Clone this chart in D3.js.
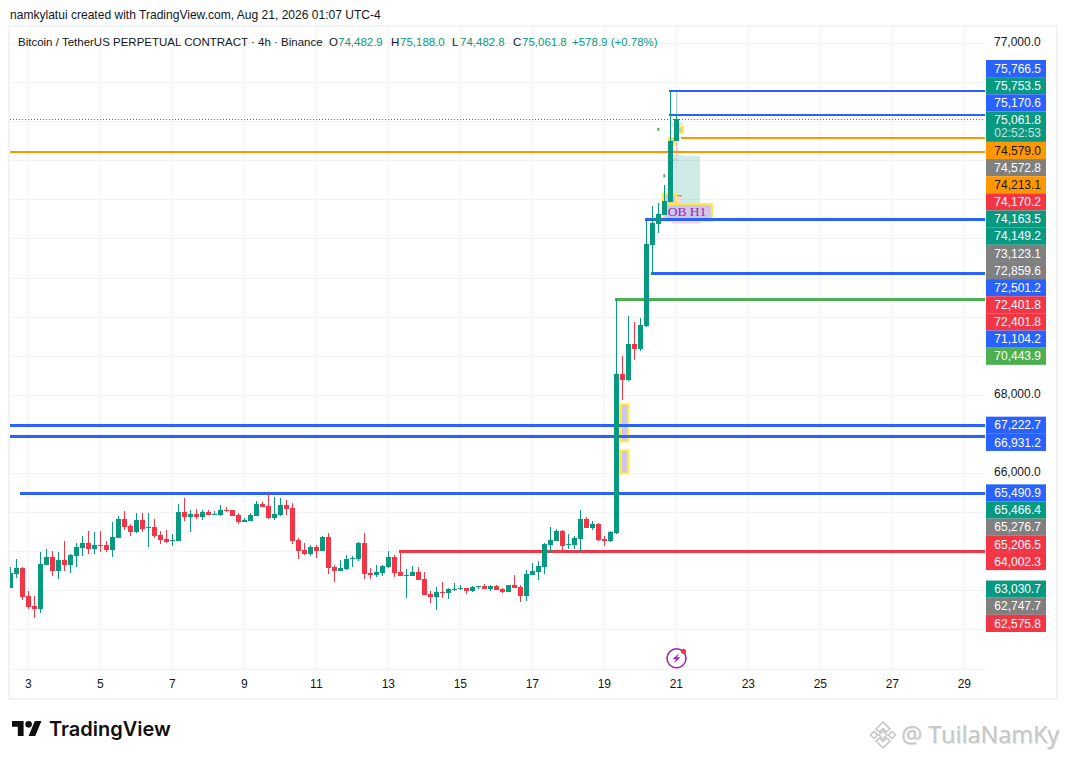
<!DOCTYPE html>
<html>
<head>
<meta charset="utf-8">
<script src="https://cdn.jsdelivr.net/npm/d3@7"></script>
<style>
  html, body { margin: 0; padding: 0; background: #fff; }
  svg { display: block; }
  text { font-family: "Liberation Sans", sans-serif; fill: #131722; }
  .axis path, .axis line { stroke: none; }
  .grid line { stroke: #f3f3f4; shape-rendering: crispEdges; }
  .grid path { stroke: none; }
</style>
</head>
<body>
<svg id="chart" width="1067" height="759"></svg>
<script>
// 4h candles, first one opens Aug 2 12:00
const opens = [63057,63414,63568,62853,62597,62521,63644,63849,63491,63772,63644,63874,64078,64206,64053,64155,64155,64027,64334,64819,64640,64487,64793,64589,64615,64410,64308,64257,64257,64998,64870,64947,64870,64998,64921,64921,65049,65049,64921,64742,64768,64896,65202,65151,64845,64921,65177,65100,64283,64027,63925,64104,64002,64359,63593,63491,63542,63797,63797,64206,63440,63389,63440,63593,63849,63465,63363,63363,63465,63287,62904,62827,62955,62929,63006,63031,63057,62980,63082,63108,63031,63108,63031,62955,63133,63082,62853,63389,63465,63593,64155,64257,64513,64155,64155,64308,64819,64589,64691,64308,64257,64461,68522,68368,69288,69160,69773,71841,72378,72608,72940,74482.9];
const highs = [63593,63797,63593,62980,62853,63976,64053,64002,63976,64257,63925,64206,64385,64513,64487,64513,64257,64742,64896,65023,64691,64972,64972,64972,64819,64513,64538,64436,65202,65355,65049,65074,65049,65049,65023,65177,65125,65049,64972,64845,64972,65279,65253,65483,65381,65355,65304,65228,64334,64206,64155,64155,64385,64461,63644,63772,63900,63874,64232,64461,63568,63644,63644,64002,63900,64002,63542,63619,63593,63465,62980,63082,63210,63057,63185,63133,63057,63108,63108,63159,63133,63133,63057,63133,63389,63133,63517,63695,63746,64206,64615,64564,64538,64436,64385,65049,64870,64768,64717,64385,64513,70443.9,68981,70029,69853,69977,72455,72838,72915,73374,75766.5,75188];
const lows = [63057,63312,62750,62521,62291,62418,63644,63363,63287,63491,63440,63593,63874,63925,63925,63976,63976,63849,64334,64538,64385,64461,64487,64104,64334,64181,64206,64129,64257,64768,64487,64819,64793,64921,64921,64896,64998,64896,64691,64742,64768,64896,65125,64819,64793,64896,64921,64181,63797,63900,63874,63823,64002,63414,63210,63491,63517,63593,63746,63287,63287,63338,63363,63568,63338,63363,62801,63363,63261,62878,62674,62495,62801,62776,62980,63006,62904,62955,63031,63031,62980,63006,62929,62955,63057,62699,62725,63389,63261,63414,63951,64257,64027,64053,64053,63976,64589,64538,64257,64129,64232,64435,67857,68343,68879,69134,69747,71078,72148,72608,72940,74482.8];
const closes = [63440,63568,62827,62572,62521,63670,63849,63491,63772,63644,63900,64104,64206,64053,64155,64129,64027,64359,64819,64615,64487,64793,64564,64615,64385,64283,64232,64283,64998,64870,64947,64870,64998,64921,64947,65049,65023,64896,64742,64793,64921,65202,65125,64845,64947,65177,65074,64257,64002,63925,64104,64002,64359,63568,63491,63568,63797,63823,64206,63414,63389,63465,63619,63849,63440,63363,63389,63465,63261,62878,62827,62955,62929,63031,63031,63057,62980,63082,63108,63031,63108,63006,62955,63133,63057,62853,63414,63491,63619,64181,64283,64513,64129,64181,64334,64819,64589,64691,64283,64257,64487,68522,68368,69288,69160,69798,71867,72403,72633,72966,74482.9,75061.8];

const dayTicks = [3,5,7,9,11,13,15,17,19,21,23,25,27,29];
const priceGrid = d3.range(61000, 78000, 1000);
const priceTicks = [77000, 68000, 66000];

// horizontal levels drawn from a candle to the right edge, -3 = runs from the left
const levelValues = [75766.5, 75170.6, 74579.0, 74213.1, 72501.2, 71104.2, 70443.9, 67222.7, 66931.2, 65490.9, 64002.3];
const levelStarts = [110, 110, 112, -3, 106, 107, 101, -3, -3, 1.9, 65];
const levelKinds = ["blue","blue","orange","orange","blue","blue","green","blue","blue","blue","red"];

const lastPrice = 75061.8;
const labelValues = [75766.5,75753.5,75170.6,75061.8,74579.0,74572.8,74213.1,74170.2,74163.5,74149.2,73123.1,72859.6,72501.2,72401.8,72401.8,71104.2,70443.9,67222.7,66931.2,65490.9,65466.4,65276.7,65206.5,64002.3,63030.7,62747.7,62575.8];
const labelKinds = ["blue","teal","blue","teal","orange","grey","orange","red","teal","teal","grey","grey","blue","red","red","blue","green","blue","blue","blue","teal","grey","red","red","teal","grey","red"];
const countdown = "02:52:53";

// zones, in candle positions and prices
const fvgStart = [101.8, 101.8, 108.8, 109.8, 111.3];
const fvgEnd = [103.1, 103.1, 111.1, 110.8, 112.2];
const fvgTop = [67755, 66580, 73145, 74575, 74856];
const fvgBottom = [66810, 65993, 72890, 74422, 74703];
const obBox = { start: 109.1, end: 117.1, top: 72880, bottom: 72455, text: "OB H1" };

// two long position tools on top of each other
const toolStart = [110.4, 112];
const toolEnd = [112, 115.1];
const toolTop = [74141, 74115];
const toolEntry = [73093, 72838];
const toolBottom = [72378, 72378];

// the small signal marks around the top
const dotCandles = [108, 109];
const dotPrices = [74791, 73604];
const tickCandles = [110.7, 111.9, 109.9, 110.9];
const tickPrices = [74932, 74932, 74013, 74013];

const palette = { blue: "#2962ff", teal: "#089981", grey: "#808080", orange: "#ff9800", red: "#f23645", green: "#4caf50" };
const up = "#089981", down = "#f23645";

const pane = { left: 10, right: 985, top: 27, bottom: 668.5, outerRight: 1056, outerBottom: 698 };

const svg = d3.select("#chart");
svg.append("defs").append("clipPath").attr("id", "pane-clip")
  .append("rect").attr("x", pane.left).attr("y", pane.top)
  .attr("width", pane.right - pane.left).attr("height", pane.bottom - pane.top);

const day = (d) => new Date(Date.UTC(2026, 7, d));
const candleTime = (i) => new Date(Date.UTC(2026, 7, 2, 12) + i * 4 * 3600 * 1000);

const x = d3.scaleUtc().domain([day(3), day(29)]).range([28.33, 964.33]);
const y = d3.scaleLinear().domain([61000, 77000]).range([pane.bottom, 43]);
const cx = (i) => Math.floor(x(candleTime(i)));
const lineY = (v) => Math.floor(y(v) + 0.3) + 0.5;

// frame
svg.append("rect").attr("x", pane.left - 1).attr("y", pane.top - 1)
  .attr("width", pane.outerRight - pane.left + 2).attr("height", pane.outerBottom - pane.top + 2)
  .attr("fill", "none").attr("stroke", "#f2f3f5").attr("stroke-width", 2);

// grid
svg.append("g").attr("class", "grid")
  .attr("transform", `translate(0, ${pane.bottom})`)
  .call(d3.axisBottom(x).tickValues(dayTicks.map(day)).tickSize(-(pane.bottom - pane.top)).tickSizeOuter(0).tickFormat(""));
svg.append("g").attr("class", "grid")
  .attr("transform", `translate(${pane.left}, 0)`)
  .call(d3.axisLeft(y).tickValues(priceGrid).tickSize(-(pane.right - pane.left)).tickSizeOuter(0).tickFormat(""));

const plot = svg.append("g").attr("clip-path", "url(#pane-clip)");

// long position tools
toolStart.forEach((s, i) => {
  plot.append("rect")
    .attr("x", cx(s)).attr("width", cx(toolEnd[i]) - cx(s))
    .attr("y", y(toolTop[i])).attr("height", y(toolEntry[i]) - y(toolTop[i]))
    .attr("fill", up).attr("opacity", 0.2);
  plot.append("rect")
    .attr("x", cx(s)).attr("width", cx(toolEnd[i]) - cx(s))
    .attr("y", y(toolEntry[i])).attr("height", y(toolBottom[i]) - y(toolEntry[i]))
    .attr("fill", down).attr("opacity", 0.2);
  plot.append("line")
    .attr("x1", cx(s)).attr("x2", cx(toolEnd[i]))
    .attr("y1", y(toolEntry[i])).attr("y2", y(toolEntry[i]))
    .attr("stroke", "#8a8a70").attr("stroke-width", 1);
});

// pale stems above and below the last candle
plot.append("rect").attr("x", cx(111)).attr("width", 1.5)
  .attr("y", y(levelValues[0])).attr("height", y(lastPrice) - y(levelValues[0]))
  .attr("fill", up).attr("opacity", 0.3);
plot.append("rect").attr("x", cx(111)).attr("width", 1.5)
  .attr("y", y(opens[111])).attr("height", y(toolTop[0]) - y(opens[111]))
  .attr("fill", down).attr("opacity", 0.3);

// imbalance boxes
plot.selectAll("rect.fvg").data(fvgStart).enter().append("rect")
  .attr("class", "fvg")
  .attr("x", (d) => cx(d))
  .attr("width", (d, i) => cx(fvgEnd[i]) - cx(d))
  .attr("y", (d, i) => y(fvgTop[i]))
  .attr("height", (d, i) => y(fvgBottom[i]) - y(fvgTop[i]))
  .attr("fill", "#d1c4e9").attr("stroke", "#ffeb3b").attr("stroke-width", 2);

// OB box sits under the level lines
plot.append("rect")
  .attr("x", cx(obBox.start)).attr("width", cx(obBox.end) - cx(obBox.start))
  .attr("y", y(obBox.top)).attr("height", y(obBox.bottom) - y(obBox.top))
  .attr("fill", "#d1c4e9").attr("stroke", "#ffeb3b").attr("stroke-width", 2);

// level lines
plot.selectAll("line.level").data(levelValues).enter().append("line")
  .attr("class", "level")
  .attr("x1", (d, i) => cx(levelStarts[i]) - 1)
  .attr("x2", pane.right)
  .attr("y1", (d, i) => (i < 4 ? Math.round(y(d)) : lineY(d)))
  .attr("y2", (d, i) => (i < 4 ? Math.round(y(d)) : lineY(d)))
  .attr("stroke", (d, i) => palette[levelKinds[i]])
  .attr("stroke-width", (d, i) => (i < 4 ? 2 : 3));

// last price
plot.append("line").attr("x1", pane.left).attr("x2", pane.right)
  .attr("y1", lineY(lastPrice)).attr("y2", lineY(lastPrice))
  .attr("stroke", up).attr("stroke-width", 1).attr("stroke-dasharray", "1 2");

// candles
const candles = opens.map((o, i) => ({ i, o, h: highs[i], l: lows[i], c: closes[i] }));
const candle = plot.selectAll("g.candle").data(candles).enter().append("g")
  .attr("class", "candle")
  .attr("fill", (d) => (d.c >= d.o ? up : down))
  .attr("shape-rendering", "crispEdges");
candle.append("rect")
  .attr("x", (d) => cx(d.i)).attr("width", 1)
  .attr("y", (d) => y(d.h)).attr("height", (d) => y(d.l) - y(d.h));
candle.append("rect")
  .attr("x", (d) => cx(d.i) - 2).attr("width", 5)
  .attr("y", (d) => y(Math.max(d.o, d.c)))
  .attr("height", (d) => Math.max(1, Math.abs(y(d.o) - y(d.c))));

plot.append("text")
  .attr("x", (cx(obBox.start) + cx(obBox.end)) / 2 - 1)
  .attr("y", (y(obBox.top) + y(obBox.bottom)) / 2 + 4)
  .attr("text-anchor", "middle")
  .attr("font-size", 13.5)
  .style("font-family", "'Liberation Serif', serif")
  .style("fill", "#9c27b0")
  .text(obBox.text);

// signal marks
plot.selectAll("rect.dot").data(dotCandles).enter().append("rect")
  .attr("class", "dot")
  .attr("x", (d) => x(candleTime(d)) - 1)
  .attr("y", (d, i) => y(dotPrices[i]) - 1.5)
  .attr("width", 2).attr("height", 3)
  .attr("fill", palette.green);
plot.selectAll("path.tick-mark").data(tickCandles).enter().append("path")
  .attr("class", "tick-mark")
  .attr("d", (d, i) => {
    const px = x(candleTime(d)), py = y(tickPrices[i]);
    return `M${px - 2} ${py + 1}L${px} ${py - 1}L${px + 2} ${py + 1}`;
  })
  .attr("fill", "none").attr("stroke", "#888").attr("stroke-width", 1).attr("stroke-dasharray", "1 1");

// axes
const xAxisG = svg.append("g").attr("class", "axis")
  .attr("transform", `translate(0, ${pane.bottom})`)
  .call(d3.axisBottom(x).tickValues(dayTicks.map(day)).tickSize(0).tickPadding(11).tickFormat(d3.utcFormat("%-d")));
xAxisG.selectAll("text").attr("font-size", 12).attr("x", -0.5).style("font-family", '"Liberation Sans", sans-serif').style("fill", "#131722");
const yAxisG = svg.append("g").attr("class", "axis")
  .attr("transform", `translate(${pane.right}, 0)`)
  .call(d3.axisRight(y).tickValues(priceTicks).tickSize(0).tickPadding(9).tickFormat(d3.format(",.1f")));
yAxisG.selectAll("text").attr("font-size", 12).attr("y", -1.5).style("font-family", '"Liberation Sans", sans-serif').style("fill", "#131722");

// price labels: first block is packed from the top, the rest pushed down on collision
const labelH = 17.15, labelG = svg.append("g");
let cursor = 60;
labelValues.forEach((v, i) => {
  const h = v === lastPrice ? labelH + 13.3 : labelH;
  const top = i < 17 ? cursor : Math.max(cursor, y(v) - labelH / 2);
  cursor = top + h;
  const kind = labelKinds[i];
  const ink = kind === "orange" ? "#131722" : "#fff";
  labelG.append("rect").attr("x", 986).attr("y", top).attr("width", 60).attr("height", h)
    .attr("fill", palette[kind]);
  labelG.append("text").attr("x", 1041).attr("y", top + 12.7).attr("text-anchor", "end")
    .attr("font-size", 12).style("fill", ink).text(d3.format(",.1f")(v));
  if (v === lastPrice) {
    labelG.append("text").attr("x", 1041).attr("y", top + 26).attr("text-anchor", "end")
      .attr("font-size", 12).style("fill", "#fff").style("opacity", 0.75).text(countdown);
  }
});

// titles
svg.append("text").attr("x", 10).attr("y", 19).attr("font-size", 12.05).text("namkylatui created with TradingView.com, Aug 21, 2026 01:07 UTC-4");

const legend = [
  [18, "Bitcoin / TetherUS PERPETUAL CONTRACT · 4h · Binance", "#131722"],
  [329, "O", "#131722"], [338, "74,482.9", up],
  [391, "H", "#131722"], [400, "75,188.0", up],
  [452, "L", "#131722"], [460, "74,482.8", up],
  [513, "C", "#131722"], [522, "75,061.8", up],
  [572, "+578.9 (+0.78%)", up]
];
legend.forEach(([lx, t, c]) => {
  svg.append("text").attr("x", lx).attr("y", 45.5).attr("font-size", 11.5).style("fill", c).text(t);
});

// lightning icon
const icon = svg.append("g").attr("transform", "translate(676.5, 658.3)");
icon.append("circle").attr("r", 9.5).attr("fill", "#fff").attr("stroke", "#9c27b0").attr("stroke-width", 1.6);
icon.append("path").attr("d", "M2.5 -5 L-4 1 L-0.5 1 L-2.5 5 L4 -1 L0.5 -1 Z").attr("fill", "#9c27b0");
icon.append("circle").attr("cx", 7).attr("cy", -7).attr("r", 2.6).attr("fill", "#f23645");

// TradingView logo
const logo = svg.append("g").attr("transform", "translate(12, 717.7) scale(0.83)").attr("fill", "#0f0f0f");
logo.append("path").attr("d", "M14 22H7V11H0V4h14v18zM28 22h-8l7.5-18h8L28 22z");
logo.append("circle").attr("cx", 20).attr("cy", 8).attr("r", 4);
svg.append("text").attr("x", 49).attr("y", 736).attr("font-size", 20).attr("font-weight", 600)
  .style("font-family", "Inter, sans-serif").style("fill", "#0f0f0f").text("TradingView");

// watermark
const mark = svg.append("g").attr("transform", "translate(883, 735)").attr("fill", "#fff").attr("stroke", "#c4c4c4").attr("stroke-width", 1.5);
[[0, 0, 4], [-9, 0, 3.5], [9, 0, 3.5]].forEach(([mx, my, s]) => {
  mark.append("path").attr("d", `M${mx} ${my - s}L${mx + s} ${my}L${mx} ${my + s}L${mx - s} ${my}Z`);
});
mark.append("path").attr("d", "M-7 -6L0 -13L7 -6L3.5 -3L0 -6.5L-3.5 -3Z");
mark.append("path").attr("d", "M-7 6L0 13L7 6L3.5 3L0 6.5L-3.5 3Z");
svg.append("text").attr("x", 902).attr("y", 744).attr("font-size", 23.5)
  .style("fill", "#e2e2e2").style("font-family", '"Open Sans", sans-serif').text("@ TuilaNamKy");
svg.append("text").attr("x", 901).attr("y", 743).attr("font-size", 23.5)
  .style("fill", "#c6c6c6").style("font-family", '"Open Sans", sans-serif').text("@ TuilaNamKy");
</script>
</body>
</html>
